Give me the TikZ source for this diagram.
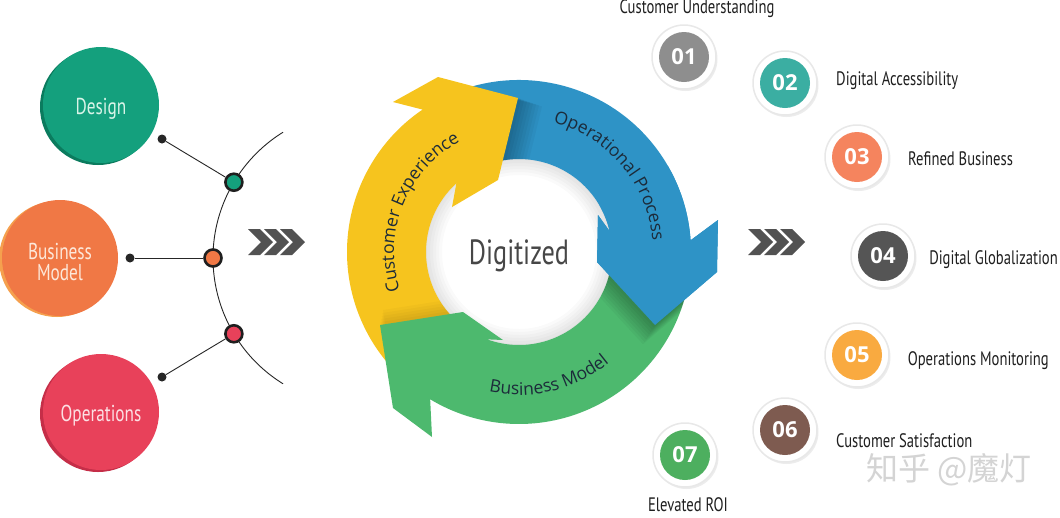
\documentclass[tikz,border=0pt]{standalone}
\usepackage{fontspec}
\setmainfont{Open Sans}
\newfontfamily\condfont[FakeStretch=0.75]{PT Sans}
\newfontfamily\cjkfont{Noto Sans CJK SC}
\usetikzlibrary{calc,decorations.text,shadows}
\definecolor{cyel}{HTML}{F6C41E}
\definecolor{cblu}{HTML}{2E93C6}
\definecolor{cgrn}{HTML}{4DB96E}
\definecolor{cdes}{HTML}{14A07D}
\definecolor{cdesD}{HTML}{0B7B5E}
\definecolor{cdesT}{HTML}{D9F4E8}
\definecolor{cbus}{HTML}{F07845}
\definecolor{cbusL}{HTML}{F5A04E}
\definecolor{cbusT}{HTML}{FDE8DA}
\definecolor{cops}{HTML}{E8415A}
\definecolor{copsD}{HTML}{C52E48}
\definecolor{copsT}{HTML}{FCE0E4}
\definecolor{ctxt}{HTML}{1C2B3A}
\definecolor{n1c}{HTML}{8E8E8E}
\definecolor{n2c}{HTML}{3BAEA2}
\definecolor{n3c}{HTML}{F5845E}
\definecolor{n4c}{HTML}{555555}
\definecolor{n5c}{HTML}{F9AA40}
\definecolor{n6c}{HTML}{7E5B50}
\definecolor{n7c}{HTML}{4DAF5F}
\newcommand\yheadpath{(393,102) -- (438,77) -- (518,98) -- (498,180) -- (452,207) -- (456,183) -- (423,110) -- cycle}
\newcommand\bheadpath{(598,215) -- (597,262) -- (655,325) -- (717,272) -- (718,220) -- (692,240) -- (612,231) -- cycle}
\newcommand\gheadpath{(432,437) -- (393,408) -- (380,325) -- (463,312) -- (503,340) -- (487,339) -- (430,399) -- cycle}
\tikzset{
 bigc/.style={circle, minimum size=116pt, inner sep=0pt},
 bigtext/.style={align=center, font=\condfont\fontsize{23}{21}\selectfont, yshift=-3.5pt},
 hubdot/.style={circle, draw=black!88, line width=2.6pt, minimum size=17pt, inner sep=0pt},
 pindot/.style={circle, fill=black!85, minimum size=9pt, inner sep=0pt},
 conn/.style={draw=black!85, line width=0.9pt},
 numring/.style={circle, fill=white, draw=black!9, line width=1.5pt, minimum size=64pt, inner sep=0pt, drop shadow={opacity=0.15, shadow xshift=1.5pt, shadow yshift=-2pt}},
 numdisc/.style={circle, minimum size=50pt, inner sep=0pt, text=white, font=\bfseries\fontsize{22}{22}\selectfont},
 lbl/.style={font=\condfont\fontsize{19.5}{19.5}\selectfont, text=black!88, inner sep=0pt, yshift=-2pt},
 chev/.style={fill=black!68},
 arctext/.style={decorate, decoration={text along path, text align=center, text color=ctxt, text={|\fontsize{17.5}{17.5}\selectfont|#1}}},
}
\begin{document}
\begin{tikzpicture}[x=1pt,y=-1pt]
\useasboundingbox (0,0) rectangle (1060,517);
\fill[white] (0,0) rectangle (1060,517);

% ---------- left part ----------
\coordinate (LC) at (361,258);
\draw[black!85, line width=0.9pt] ($(LC)+(121.8:148)$) arc[start angle=121.8, end angle=238.2, radius=148];

\fill[cdesD] (98,107) circle[radius=58];
\node[bigc, fill=cdes, label={[bigtext, text=cdesT]center:Design}] (design) at (101,105) {};
\fill[cbusL] (57,259) circle[radius=58];
\node[bigc, fill=cbus, label={[bigtext, text=cbusT]center:{Business\\Model}}] (business) at (60,258) {};
\fill[copsD] (98,414) circle[radius=58];
\node[bigc, fill=cops, label={[bigtext, text=copsT]center:Operations}] (operations) at (101,412) {};

\node[pindot] (p1) at (162,139) {};
\node[pindot] (p2) at (130,258) {};
\node[pindot] (p3) at (162,377) {};
\node[hubdot, fill=cdes] (h1) at ($(LC)+(210.8:148)$) {};
\node[hubdot, fill=cbus] (h2) at ($(LC)+(180:148)$) {};
\node[hubdot, fill=cops] (h3) at ($(LC)+(149.2:148)$) {};
\draw[conn] (p1) -- (h1);
\draw[conn] (p2) -- (h2);
\draw[conn] (p3) -- (h3);

% chevrons
\foreach \x in {248,264,280}
  \fill[chev] (\x,229) -- ++(12,0) -- ++(13,13) -- ++(-13,13) -- ++(-12,0) -- ++(13,-13) -- cycle;
\foreach \x in {748,764,780}
  \fill[chev] (\x,229) -- ++(12,0) -- ++(13,13) -- ++(-13,13) -- ++(-12,0) -- ++(13,-13) -- cycle;

% ---------- cycle ----------
\coordinate (C) at (519,252);
% soft inner shadow of the hole
\foreach \i in {1,...,6}
  \fill[black, opacity=0.018, even odd rule] (C) circle[radius=95] (C) circle[radius={95-3*\i}];
% blue
\fill[cblu] ($(C)+(240:172)$) arc[start angle=240,end angle=356.1,radius=172]
  -- (718,220) -- (717,272) -- (655,325) -- (597,262) -- (598,215)
  -- ($(C)+(347.1:93)$) arc[start angle=347.1,end angle=240,radius=93] -- cycle;
\begin{scope}
  \clip ($(C)+(240:172)$) arc[start angle=240,end angle=356.1,radius=172]
    -- (718,220) -- (717,272) -- (655,325) -- (597,262) -- (598,215)
    -- ($(C)+(347.1:93)$) arc[start angle=347.1,end angle=240,radius=93] -- cycle;
  \foreach \s in {3,6,...,24}
    \fill[black, opacity=0.035, shift={(\s,0.35*\s)}] \yheadpath;
\end{scope}
% yellow
\fill[cyel] ($(C)+(136:172)$) arc[start angle=136,end angle=235.9,radius=172]
  -- (393,102) -- (438,77) -- (518,98) -- (498,180) -- (452,207)
  -- ($(C)+(227.7:93)$) arc[start angle=227.7,end angle=136,radius=93] -- cycle;
\begin{scope}
  \clip ($(C)+(136:172)$) arc[start angle=136,end angle=235.9,radius=172]
    -- (393,102) -- (438,77) -- (518,98) -- (498,180) -- (452,207)
    -- ($(C)+(227.7:93)$) arc[start angle=227.7,end angle=136,radius=93] -- cycle;
  \foreach \s in {3,6,...,15}
    \fill[black, opacity=0.025, shift={(0.2*\s,-\s)}] \gheadpath;
\end{scope}
% green
\fill[cgrn] ($(C)+(8:172)$) arc[start angle=8,end angle=121.1,radius=172]
  -- (432,437) -- (393,408) -- (380,325) -- (463,312) -- (503,340)
  -- ($(C)+(110.1:93)$) arc[start angle=110.1,end angle=8,radius=93] -- cycle;
\begin{scope}
  \clip ($(C)+(8:172)$) arc[start angle=8,end angle=121.1,radius=172]
    -- (432,437) -- (393,408) -- (380,325) -- (463,312) -- (503,340)
    -- ($(C)+(110.1:93)$) arc[start angle=110.1,end angle=8,radius=93] -- cycle;
  \foreach \s in {3,6,...,24}
    \fill[black, opacity=0.035, shift={(-0.5*\s,0.8*\s)}] \bheadpath;
\end{scope}
% blue head again on top of green
\fill[cblu] ($(C)+(330:172)$) arc[start angle=330,end angle=356.1,radius=172]
  -- (718,220) -- (717,272) -- (655,325) -- (597,262) -- (598,215)
  -- ($(C)+(347.1:93)$) arc[start angle=347.1,end angle=330,radius=93] -- cycle;

\path[arctext={Customer Experience}] ($(C)+(150:125)$) arc[start angle=150,end angle=254,radius=125];
\path[arctext={Operational Process}] ($(C)+(270:134)$) arc[start angle=270,end angle=370,radius=134];
\path[arctext={Business Model}] ($(C)+(120:143)$) arc[start angle=120,end angle=33,radius=143];

\node[font=\condfont\fontsize{35}{35}\selectfont, text=black!72, yshift=-4pt] (dig) at (C) {Digitized};

% ---------- right part ----------
\node[numring] (r1) at (684,57) {};
\node[numdisc, fill=n1c] (n1) at (r1) {01};
\node[numring] (r2) at (785,83) {};
\node[numdisc, fill=n2c] (n2) at (r2) {02};
\node[numring] (r3) at (857,157) {};
\node[numdisc, fill=n3c] (n3) at (r3) {03};
\node[numring] (r4) at (883,256) {};
\node[numdisc, fill=n4c] (n4) at (r4) {04};
\node[numring] (r5) at (857,355) {};
\node[numdisc, fill=n5c] (n5) at (r5) {05};
\node[numring] (r6) at (785,430) {};
\node[numdisc, fill=n6c] (n6) at (r6) {06};
\node[numring] (r7) at (685,455) {};
\node[numdisc, fill=n7c] (n7) at (r7) {07};

\node[lbl] (l1) at (697,7) {Customer Understanding};
\node[lbl, anchor=west] (l2) at (836,79) {Digital Accessibility};
\node[lbl, anchor=west] (l3) at (908,157) {Refined Business};
\node[lbl, anchor=east] (l4) at (1058,258) {Digital Globalization};
\node[lbl, anchor=east] (l5) at (1049,359) {Operations Monitoring};
\node[lbl, anchor=west] (l6) at (836,439) {Customer Satisfaction};
\node[lbl] (l7) at (688,503) {Elevated ROI};

\node[font=\cjkfont\fontsize{32}{32}\selectfont, text=black!17] (wm) at (949,470) {知乎 @魔灯};
\end{tikzpicture}
\end{document}
